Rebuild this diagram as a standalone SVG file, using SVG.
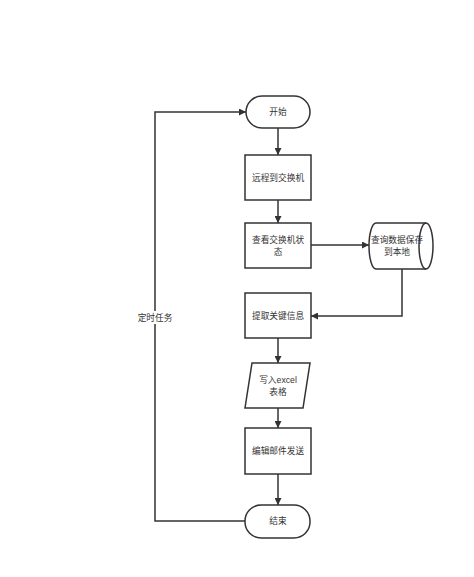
<svg xmlns="http://www.w3.org/2000/svg" width="474" height="577" viewBox="0 0 474 577">
<style>
.s{fill:#fff;stroke:#333;stroke-width:1.5}
.t{font-family:"Liberation Sans","Noto Sans CJK SC",sans-serif;font-size:8.7px;fill:#333;text-anchor:middle}
.c{fill:none;stroke:#333;stroke-width:1.5}
</style>
<defs>
<marker id="a" viewBox="0 0 10 10" refX="10" refY="5" markerWidth="7" markerHeight="7" orient="auto" markerUnits="userSpaceOnUse">
<path d="M0,0 L10,5 L0,10 Z" fill="#333"/>
</marker>
</defs>
<rect width="474" height="577" fill="#fff"/>
<g id="connectors">
<line class="c" x1="278" y1="128" x2="278" y2="155" marker-end="url(#a)"/>
<line class="c" x1="278" y1="200" x2="278" y2="223" marker-end="url(#a)"/>
<line class="c" x1="311" y1="245" x2="369" y2="245" marker-end="url(#a)"/>
<polyline class="c" points="402,269 402,316 311,316" marker-end="url(#a)"/>
<line class="c" x1="278" y1="338" x2="278" y2="363" marker-end="url(#a)"/>
<line class="c" x1="278" y1="408" x2="278" y2="428" marker-end="url(#a)"/>
<line class="c" x1="278" y1="474" x2="278" y2="505" marker-end="url(#a)"/>
<polyline class="c" points="245,521 155,521 155,112 246,112" marker-end="url(#a)"/>
<rect x="135" y="311" width="40" height="13" fill="#fff"/>
<text class="t" x="155" y="321">定时任务</text>
</g>
<g id="start">
<rect class="s" x="246" y="96" width="64" height="32" rx="16"/>
<text class="t" x="278" y="115">开始</text>
</g>
<g id="remote">
<rect class="s" x="245" y="155" width="66" height="45"/>
<text class="t" x="278" y="181">远程到交换机</text>
</g>
<g id="check">
<rect class="s" x="245" y="223" width="66" height="45"/>
<text class="t" x="278" y="243">查看交换机状</text>
<text class="t" x="278" y="255">态</text>
</g>
<g id="save">
<path class="s" d="M376,223 L426,223 A7,23 0 0 1 426,269 L376,269 A7,23 0 0 1 376,223 Z"/>
<path class="c" d="M426,223 A7,23 0 0 0 426,269"/>
<text class="t" x="397" y="243">查询数据保存</text>
<text class="t" x="397" y="255">到本地</text>
</g>
<g id="extract">
<rect class="s" x="245" y="293" width="66" height="45"/>
<text class="t" x="278" y="319">提取关键信息</text>
</g>
<g id="excel">
<polygon class="s" points="252,363 310,363 303,408 245,408"/>
<text class="t" x="278" y="383">写入excel</text>
<text class="t" x="278" y="395">表格</text>
</g>
<g id="mail">
<rect class="s" x="245" y="428" width="66" height="46"/>
<text class="t" x="278" y="454">编辑邮件发送</text>
</g>
<g id="end">
<rect class="s" x="245" y="505" width="65" height="33" rx="16"/>
<text class="t" x="278" y="524">结束</text>
</g>
</svg>
